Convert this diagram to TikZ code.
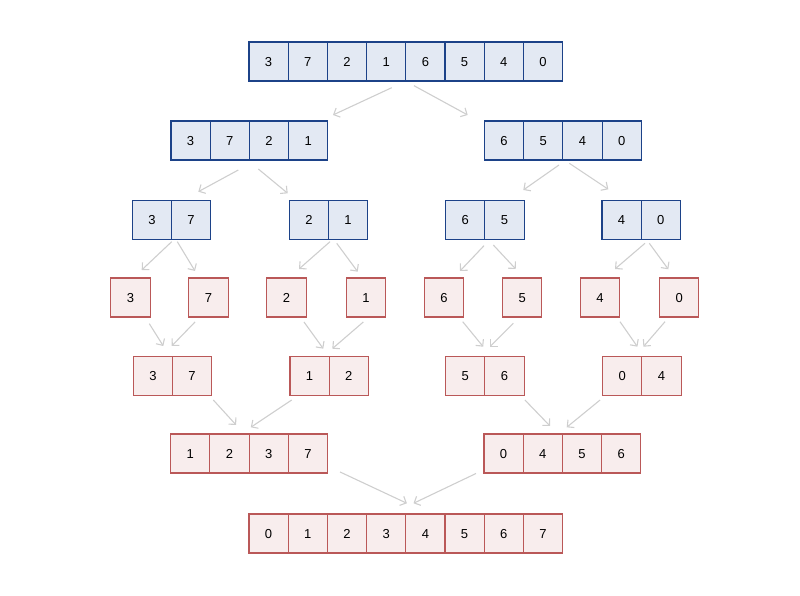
\documentclass[tikz,border=0pt]{standalone}
\usepackage{fontspec}
\setmainfont{Liberation Sans}
\usepackage{tikz}
\usetikzlibrary{arrows.meta}

\definecolor{splitline}{RGB}{28,66,136}
\definecolor{splitfill}{RGB}{227,233,243}
\definecolor{mergeline}{RGB}{186,88,88}
\definecolor{mergefill}{RGB}{248,237,237}
\definecolor{linkgray}{RGB}{206,206,206}

% one row of cells: name, x of first centre, y, style, values
% (fills first, then the borders, so shared borders keep their width)
\newcommand{\cellrow}[5]{%
  \foreach \v [count=\i] in {#5}
    \node[#4,draw=none] at ({#2+(\i-1)*39.2},#3) {};
  \foreach \v [count=\i] in {#5}
    \node[#4,fill=none] (#1-\i) at ({#2+(\i-1)*39.2},#3) {\v};
}

\begin{document}
\begin{tikzpicture}[
      x=1pt,y=1pt,
      >={Straight Barb[length=5pt,width=10pt]},
      cell/.style={draw,minimum width=39.2,minimum height=39,inner sep=0,outer sep=0,
        line width=1.1,text height=9.4pt,text depth=0pt,font=\fontsize{13}{15}\selectfont},
      split/.style={cell,draw=splitline,fill=splitfill},
      merge/.style={cell,draw=mergeline,fill=mergefill},
      link/.style={->,color=linkgray,line width=1.1}
    ]
    \useasboundingbox (0,0) rectangle (800,596);

    % splitting
    \cellrow{top}{268.6}{534.5}{split}{3,7,2,1,6,5,4,0}
    \cellrow{l}{190.6}{455.5}{split}{3,7,2,1}
    \cellrow{r}{504.1}{455.5}{split}{6,5,4,0}
    \cellrow{ll}{151.9}{376.3}{split}{3,7}
    \cellrow{lr}{308.9}{376.3}{split}{2,1}
    \cellrow{rl}{465.3}{376.3}{split}{6,5}
    \cellrow{rr}{621.6}{376.3}{split}{4,0}

    % single cells
    \begin{scope}[every node/.style={merge}]
      \node (s1) at (130.5,298.5) {3};
      \node (s2) at (208.5,298.5) {7};
      \node (s3) at (286.5,298.5) {2};
      \node (s4) at (366.0,298.5) {1};
      \node (s5) at (444.0,298.5) {6};
      \node (s6) at (522.3,298.5) {5};
      \node (s7) at (600.0,298.5) {4};
      \node (s8) at (679.3,298.5) {0};
    \end{scope}

    % merging
    \cellrow{m1}{152.9}{220}{merge}{3,7}
    \cellrow{m2}{309.6}{220}{merge}{1,2}
    \cellrow{m3}{465.3}{220}{merge}{5,6}
    \cellrow{m4}{622.3}{220}{merge}{0,4}
    \cellrow{b1}{190.3}{142.5}{merge}{1,2,3,7}
    \cellrow{b2}{503.6}{142.5}{merge}{0,4,5,6}
    \cellrow{z}{268.6}{62.5}{merge}{0,1,2,3,4,5,6,7}

    \path[link]
      ([shift={(-14.1,-6.7)}]top-4.south east) edge ([shift={(83.6,6)}]l-2.north east)
      ([shift={(8.2,-4.7)}]top-4.south east) edge ([shift={(-95.2,6)}]r-2.north east)
      ([shift={(-11.1,-10)}]l-2.south east) edge ([shift={(26.8,8.5)}]ll-1.north east)
      ([shift={(8.9,-9)}]l-2.south east) edge ([shift={(-40.8,6.9)}]lr-1.north east)
      ([shift={(-3.9,-5)}]r-2.south east) edge ([shift={(38.4,10.2)}]rl-1.north east)
      ([shift={(6.4,-3.3)}]r-2.south east) edge ([shift={(-32.9,10.9)}]rr-1.north east)
      ([shift={(0.2,-2.5)}]ll-1.south east) edge ([shift={(11.2,8)}]s1.north)
      ([shift={(5.8,-2.5)}]ll-1.south east) edge ([shift={(-13.5,7)}]s2.north)
      ([shift={(1.5,-2.5)}]lr-1.south east) edge ([shift={(12.5,9)}]s3.north)
      ([shift={(8.2,-4.1)}]lr-1.south east) edge ([shift={(-8.3,6.3)}]s4.north)
      ([shift={(-0.9,-6.5)}]rl-1.south east) edge ([shift={(16,7)}]s5.north)
      ([shift={(8.4,-5.8)}]rl-1.south east) edge ([shift={(-6.6,9)}]s6.north)
      ([shift={(3.8,-4.1)}]rr-1.south east) edge ([shift={(15,9)}]s7.north)
      ([shift={(8.1,-4.1)}]rr-1.south east) edge ([shift={(-11,8.7)}]s8.north)
      ([shift={(18.8,-6.7)}]s1.south) edge ([shift={(-9.2,10.5)}]m1-1.north east)
      ([shift={(-13.5,-5)}]s2.south) edge ([shift={(-0.8,10.5)}]m1-1.north east)
      ([shift={(17.5,-5)}]s3.south) edge ([shift={(-5.9,7.8)}]m2-1.north east)
      ([shift={(-2.7,-5)}]s4.south) edge ([shift={(3.1,7.8)}]m2-1.north east)
      ([shift={(18.7,-4.7)}]s5.south) edge ([shift={(-1.7,9.8)}]m3-1.north east)
      ([shift={(-9,-6.3)}]s6.south) edge ([shift={(5,9.8)}]m3-1.north east)
      ([shift={(20,-4.7)}]s7.south) edge ([shift={(-4.5,9.8)}]m4-1.north east)
      ([shift={(-14.3,-4.7)}]s8.south) edge ([shift={(1.5,9.8)}]m4-1.north east)
      ([shift={(40.8,-4.5)}]m1-1.south east) edge ([shift={(-13,9)}]b1-2.north east)
      ([shift={(-37.5,-4.5)}]m2-1.south east) edge ([shift={(1.7,6.7)}]b1-2.north east)
      ([shift={(40,-4.5)}]m3-1.south east) edge ([shift={(-12.4,8)}]b2-2.north east)
      ([shift={(-41.8,-4.5)}]m4-1.south east) edge ([shift={(4.3,6.7)}]b2-2.north east)
      ([shift={(91,1)}]b1-2.south east) edge ([shift={(1.1,10.7)}]z-4.north east)
      ([shift={(-86.4,-0.5)}]b2-2.south east) edge ([shift={(7.7,10.7)}]z-4.north east)
      ;
  \end{tikzpicture}
\end{document}
